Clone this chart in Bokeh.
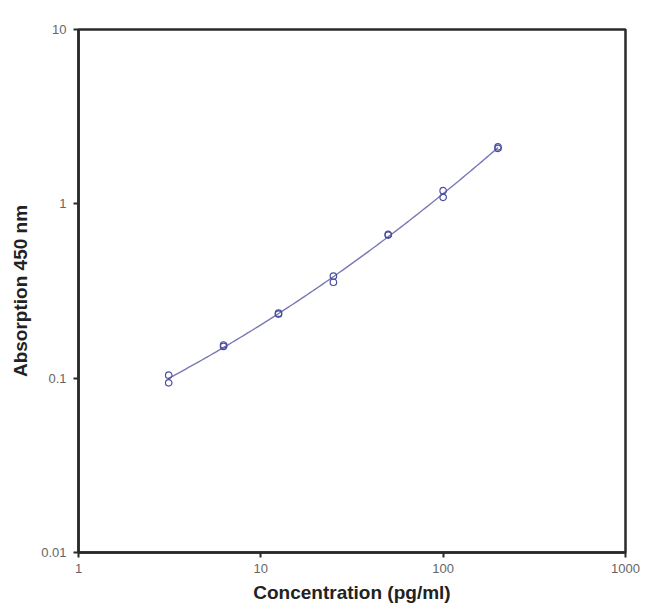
import numpy as np
from bokeh.plotting import figure
from bokeh.models import FixedTicker
from bokeh.embed import file_html
from bokeh.resources import INLINE

# Data: concentration in pg/ml, duplicate absorbances
conc = [3.125, 3.125, 6.25, 6.25, 12.5, 12.5, 25, 25, 50, 50, 100, 100, 200, 200]
absorb = [0.104, 0.094, 0.152, 0.155, 0.236, 0.233, 0.385, 0.355, 0.668, 0.662, 1.19, 1.09, 2.12, 2.08]

x_ticks = [1, 10, 100, 1000]
x_tick_labels = ["1", "10", "100", "1000"]
y_ticks = [0.01, 0.1, 1, 10]
y_tick_labels = ["0.01", "0.1", "1", "10"]

# fitted standard curve (quadratic regression in log-log space of the data)
lx = np.log10(conc)
ly = np.log10(absorb)
coef = np.polyfit(lx, ly, 2)
fx = np.linspace(lx.min(), lx.max(), 120)
fit_x = 10 ** fx
fit_y = 10 ** np.polyval(coef, fx)

W, H = 642, 605
p = figure(width=W, height=H, x_axis_type="log", y_axis_type="log",
           x_range=(1, 1000), y_range=(0.01, 10),
           output_backend="svg", toolbar_location=None,
           min_border_left=78, min_border_right=17, min_border_top=29, min_border_bottom=53)
p.xgrid.visible = False
p.ygrid.visible = False
p.outline_line_color = "#2a2a2a"
p.outline_line_width = 2.5
p.background_fill_color = "white"
p.border_fill_color = "white"

p.line(fit_x, fit_y, line_color="#7878b6", line_width=1.4)
p.scatter(conc, absorb, marker="circle", size=6.5, fill_color=None,
          line_color="#4c4ca0", line_width=1.2)

for ax, ticks, labels in ((p.xaxis, x_ticks, x_tick_labels), (p.yaxis, y_ticks, y_tick_labels)):
    ax.ticker = FixedTicker(ticks=ticks, minor_ticks=[])
    ax.major_label_overrides = {t: l for t, l in zip(ticks, labels)}
    ax.axis_line_color = "#2a2a2a"
    ax.axis_line_width = 2.5
    ax.major_tick_line_color = "#2a2a2a"
    ax.major_tick_line_width = 2
    ax.major_tick_out = 5
    ax.major_tick_in = 0
    ax.minor_tick_line_color = None
    ax.major_label_text_font = "Liberation Sans"
    ax.major_label_text_font_size = "13px"
    ax.major_label_text_color = "#666666"
    ax.axis_label_text_font = "Liberation Sans"
    ax.axis_label_text_font_size = "19px"
    ax.axis_label_text_font_style = "bold"
    ax.axis_label_text_color = "#222222"

p.xaxis.axis_label = "Concentration (pg/ml)"
p.yaxis.axis_label = "Absorption 450 nm"
p.xaxis.major_label_standoff = 6
p.yaxis.major_label_standoff = 7
p.xaxis.axis_label_standoff = 6
p.yaxis.axis_label_standoff = 7

open("out.html", "w").write(file_html(p, INLINE))
